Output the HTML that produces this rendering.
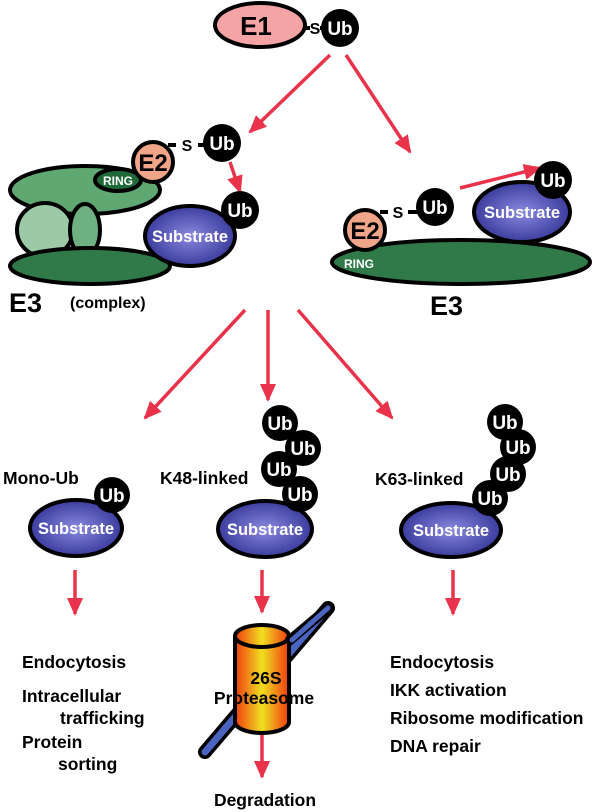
<!DOCTYPE html>
<html><head><style>body{margin:0;background:#fff}svg{display:block}text{font-family:"Liberation Sans",Arial,sans-serif;font-weight:bold}</style></head><body>
<svg width="600" height="812" viewBox="0 0 600 812" xmlns="http://www.w3.org/2000/svg">
<defs>
<radialGradient id="sub" cx="50%" cy="50%" r="60%"><stop offset="0" stop-color="#8a8ae0"/><stop offset="1" stop-color="#2c2c90"/></radialGradient>
<linearGradient id="cyl" x1="0" x2="1"><stop offset="0" stop-color="#f03a10"/><stop offset="0.5" stop-color="#f0e020"/><stop offset="1" stop-color="#f03a10"/></linearGradient>
<marker id="ah2" markerWidth="18" markerHeight="16" refX="16" refY="8" orient="auto" markerUnits="userSpaceOnUse"><path d="M0,0 L18,8 L0,16 Z" fill="#e8334a"/></marker>
</defs>
<g stroke="#e8334a" stroke-width="3.5" fill="none" marker-end="url(#ah2)">
<line x1="330" y1="55" x2="250" y2="132"/>
<line x1="346" y1="55" x2="410" y2="152"/>
<line x1="230" y1="162" x2="240" y2="192"/>
<line x1="460" y1="188" x2="540" y2="168"/>
<line x1="245" y1="310" x2="145" y2="418"/>
<line x1="268" y1="310" x2="268" y2="400"/>
<line x1="298" y1="310" x2="392" y2="418"/>
<line x1="75" y1="570" x2="75" y2="614"/>
<line x1="262" y1="570" x2="262" y2="612"/>
<line x1="453" y1="570" x2="453" y2="614"/>
<line x1="262" y1="735" x2="262" y2="777"/>
</g>
<g stroke="#000" stroke-width="4">
<ellipse cx="260" cy="25" rx="45" ry="22" fill="#f4a4a4"/>
<line x1="305" y1="28" x2="310" y2="28"/><line x1="320" y1="28" x2="328" y2="28"/>
<ellipse cx="85" cy="190" rx="75" ry="24" fill="#5fa872"/>
<ellipse cx="45" cy="230" rx="28" ry="27" fill="#9ccaa6"/>
<ellipse cx="85" cy="230" rx="15" ry="26" fill="#6fb080"/>
<ellipse cx="90" cy="266" rx="80" ry="18" fill="#2f7a48"/>
<ellipse cx="190" cy="236" rx="45" ry="30" fill="url(#sub)"/>
<ellipse cx="118" cy="180" rx="23" ry="11" fill="#1f6a38"/>
<circle cx="153" cy="162" r="20" fill="#f0a488"/>
<line x1="168" y1="145" x2="176" y2="145"/><line x1="198" y1="145" x2="205" y2="145"/>
<ellipse cx="461" cy="262" rx="129" ry="22" fill="#2f7a48"/>
<ellipse cx="522" cy="212" rx="48" ry="30" fill="url(#sub)"/>
<circle cx="365" cy="230" r="20" fill="#f0a488"/>
<line x1="380" y1="212" x2="388" y2="212"/><line x1="408" y1="212" x2="418" y2="212"/>
<ellipse cx="76" cy="528" rx="46" ry="28" fill="url(#sub)"/>
<ellipse cx="265" cy="529" rx="47" ry="28" fill="url(#sub)"/>
<ellipse cx="451" cy="530" rx="50" ry="27" fill="url(#sub)"/>
<line x1="205" y1="752" x2="328" y2="608" stroke-width="14" stroke-linecap="round"/>
</g>
<line x1="205" y1="752" x2="328" y2="608" stroke="#4a64c0" stroke-width="7" stroke-linecap="round"/>
<g stroke="#000" stroke-width="4">
<path d="M235,636 L235,722 A27,11 0 0 0 289,722 L289,636" fill="url(#cyl)"/>
<ellipse cx="262" cy="636" rx="27" ry="11" fill="url(#cyl)"/>
</g>
<line x1="290" y1="640" x2="328" y2="608" stroke="#000" stroke-width="10" stroke-linecap="round"/>
<line x1="292" y1="640" x2="328" y2="608" stroke="#4a64c0" stroke-width="5" stroke-linecap="round"/>
<g fill="#000">
<circle cx="340" cy="28" r="19"/><circle cx="222" cy="143" r="19"/><circle cx="240" cy="210" r="19"/>
<circle cx="435" cy="207" r="19"/><circle cx="553" cy="180" r="19"/><circle cx="112" cy="495" r="18"/>
<circle cx="280" cy="423" r="18"/><circle cx="303" cy="448" r="18"/><circle cx="279" cy="469" r="18"/><circle cx="300" cy="494" r="18"/>
<circle cx="505" cy="422" r="18"/><circle cx="518" cy="447" r="18"/><circle cx="508" cy="474" r="18"/><circle cx="490" cy="498" r="18"/>
</g>
<g fill="#fff" font-size="19" text-anchor="middle">
<text x="340" y="35">Ub</text><text x="222" y="150">Ub</text><text x="240" y="217">Ub</text>
<text x="435" y="214">Ub</text><text x="553" y="187">Ub</text><text x="112" y="502">Ub</text>
<text x="280" y="430">Ub</text><text x="303" y="455">Ub</text><text x="279" y="476">Ub</text><text x="300" y="501">Ub</text>
<text x="505" y="429">Ub</text><text x="518" y="454">Ub</text><text x="508" y="481">Ub</text><text x="490" y="505">Ub</text>
<g font-size="16.5"><text x="190" y="242">Substrate</text><text x="522" y="218">Substrate</text><text x="76" y="534">Substrate</text><text x="265" y="535">Substrate</text><text x="451" y="536">Substrate</text></g>
<text x="118" y="185" font-size="12">RING</text>
<text x="359" y="268" font-size="12">RING</text>
</g>
<g fill="#000" text-anchor="middle">
<text x="256" y="35" font-size="26">E1</text>
<text x="153" y="171" font-size="24">E2</text>
<text x="365" y="239" font-size="24">E2</text>
<text x="315" y="34" font-size="16">S</text><text x="187" y="151" font-size="16">S</text><text x="398" y="218" font-size="16">S</text>
</g>
<text x="9" y="312" font-size="27">E3</text>
<text x="70" y="308" font-size="16">(complex)</text>
<text x="430" y="315" font-size="27">E3</text>
<g font-size="17.5">
<text x="3" y="484">Mono-Ub</text><text x="160" y="484">K48-linked</text><text x="375" y="485">K63-linked</text>
</g>
<g font-size="17.5">
<text x="22" y="668">Endocytosis</text><text x="22" y="702">Intracellular</text><text x="60" y="724">trafficking</text>
<text x="22" y="748">Protein</text><text x="58" y="770">sorting</text>
<text x="390" y="668">Endocytosis</text><text x="390" y="696">IKK activation</text><text x="390" y="724">Ribosome modification</text><text x="390" y="752">DNA repair</text>
<text x="266" y="684" text-anchor="middle">26S</text><text x="264" y="704" text-anchor="middle">Proteasome</text>
<text x="265" y="806" text-anchor="middle">Degradation</text>
</g>
</svg>
</body></html>
